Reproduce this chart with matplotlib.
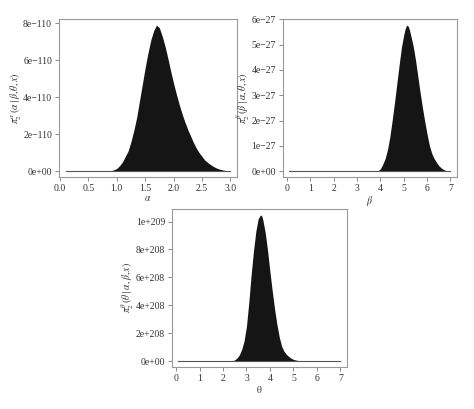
import matplotlib.pyplot as plt
import numpy as np

plt.rcParams['font.family'] = 'Liberation Serif'
plt.rcParams['mathtext.fontset'] = 'stix'

# alpha posterior (density in units of 1e-110)
alpha_x = [0.1, 0.5, 0.8, 0.9, 0.95, 1.0, 1.05, 1.1, 1.15, 1.2, 1.25, 1.3, 1.35, 1.4,
           1.45, 1.5, 1.55, 1.6, 1.65, 1.7, 1.75, 1.8, 1.85, 1.9, 1.95, 2.0, 2.05,
           2.1, 2.15, 2.2, 2.25, 2.3, 2.35, 2.4, 2.45, 2.5, 2.55, 2.6, 2.65, 2.7,
           2.75, 2.8, 2.85, 2.9, 2.95, 3.0]
alpha_y = [0.0, 0.0, 0.0, 0.03, 0.08, 0.15, 0.3, 0.5, 0.8, 1.1, 1.6, 2.2, 2.9, 3.8,
           4.7, 5.6, 6.4, 7.1, 7.6, 7.9, 7.75, 7.3, 6.75, 6.1, 5.4, 4.75, 4.15,
           3.6, 3.1, 2.65, 2.25, 1.9, 1.55, 1.25, 1.0, 0.8, 0.6, 0.47, 0.36, 0.26,
           0.18, 0.12, 0.08, 0.05, 0.02, 0.01]

# beta posterior (density in units of 1e-27)
beta_x = [0.1, 3.5, 3.8, 3.9, 4.0, 4.1, 4.2, 4.3, 4.4, 4.5, 4.6, 4.7, 4.8, 4.9, 5.0,
          5.05, 5.1, 5.15, 5.2, 5.25, 5.3, 5.4, 5.5, 5.6, 5.7, 5.8, 5.9, 6.0, 6.1,
          6.2, 6.3, 6.4, 6.5, 6.6, 6.7, 6.8, 6.9, 7.0]
beta_y = [0.0, 0.0, 0.0, 0.02, 0.1, 0.28, 0.5, 0.85, 1.35, 2.0, 2.7, 3.45, 4.2, 4.9, 5.4,
          5.6, 5.73, 5.77, 5.7, 5.55, 5.35, 4.95, 4.4, 3.75, 3.1, 2.5, 1.95, 1.45, 1.0,
          0.7, 0.5, 0.35, 0.22, 0.13, 0.07, 0.03, 0.01, 0.0]

# theta posterior (density in units of 1e+208)
theta_x = [0.1, 2.0, 2.3, 2.4, 2.5, 2.6, 2.7, 2.8, 2.9, 3.0, 3.1, 3.2, 3.3, 3.4, 3.5,
           3.6, 3.65, 3.7, 3.8, 3.9, 4.0, 4.1, 4.2, 4.3, 4.4, 4.5, 4.6, 4.7, 4.8,
           4.9, 5.0, 5.1, 5.2, 5.3, 5.4, 6.0, 7.0]
theta_y = [0.0, 0.0, 0.0, 0.02, 0.08, 0.22, 0.45, 0.85, 1.45, 2.5, 4.2, 6.2, 7.9, 9.3, 10.2,
           10.48, 10.4, 10.1, 9.2, 7.9, 6.4, 5.0, 3.7, 2.6, 1.7, 1.05, 0.7, 0.48, 0.33,
           0.2, 0.12, 0.07, 0.04, 0.02, 0.0, 0.0, 0.0]

alpha_xticks = [0.0, 0.5, 1.0, 1.5, 2.0, 2.5, 3.0]
alpha_xticklabels = ['0.0', '0.5', '1.0', '1.5', '2.0', '2.5', '3.0']
alpha_yticks = [0, 2, 4, 6, 8]
alpha_yticklabels = ['0e+00', '2e\u2212110', '4e\u2212110', '6e\u2212110', '8e\u2212110']

beta_xticks = [0, 1, 2, 3, 4, 5, 6, 7]
beta_yticks = [0, 1, 2, 3, 4, 5, 6]
beta_yticklabels = ['0e+00', '1e\u221227', '2e\u221227', '3e\u221227', '4e\u221227', '5e\u221227', '6e\u221227']

theta_xticks = [0, 1, 2, 3, 4, 5, 6, 7]
theta_yticks = [0, 2, 4, 6, 8, 10]
theta_yticklabels = ['0e+00', '2e+208', '4e+208', '6e+208', '8e+208', '1e+209']

fig = plt.figure(figsize=(4.74, 4.09), dpi=100)

panels = [
    ([0.1245, 0.567, 0.3755, 0.386], alpha_x, alpha_y, alpha_xticks, alpha_xticklabels,
     alpha_yticks, alpha_yticklabels, r'$\alpha$', r'$\pi_2^{\alpha}\,(\alpha\mid\beta,\theta,x)$'),
    ([0.597, 0.567, 0.367, 0.386], beta_x, beta_y, beta_xticks, [str(t) for t in beta_xticks],
     beta_yticks, beta_yticklabels, r'$\beta$', r'$\pi_2^{\beta}\,(\beta\mid\alpha,\theta,x)$'),
    ([0.3627, 0.103, 0.369, 0.386], theta_x, theta_y, theta_xticks, [str(t) for t in theta_xticks],
     theta_yticks, theta_yticklabels, r'$\mathrm{\theta}$', r'$\pi_2^{\theta}\,(\theta\mid\alpha,\beta,x)$'),
]

for rect, x, y, xt, xtl, yt, ytl, xl, yl in panels:
    ax = fig.add_axes(rect)
    ax.fill_between(x, y, 0, color='#151515', linewidth=0)
    ax.plot([x[0], x[-1]], [0, 0], color='#555555', linewidth=0.8)
    ax.margins(x=0.04, y=0.04)
    ax.set_xticks(xt)
    ax.set_xticklabels(xtl)
    ax.set_yticks(yt)
    ax.set_yticklabels(ytl)
    ax.tick_params(direction='out', length=3, width=0.6, color='#777777',
                   labelsize=7, labelcolor='#333333', pad=2)
    for s in ax.spines.values():
        s.set_color('#999999')
        s.set_linewidth(0.8)
    ax.set_xlabel(xl, fontsize=7, color='#333333', labelpad=1)
    ax.set_ylabel(yl, fontsize=7, color='#333333', labelpad=0)

fig.savefig('out.png', dpi=100)
